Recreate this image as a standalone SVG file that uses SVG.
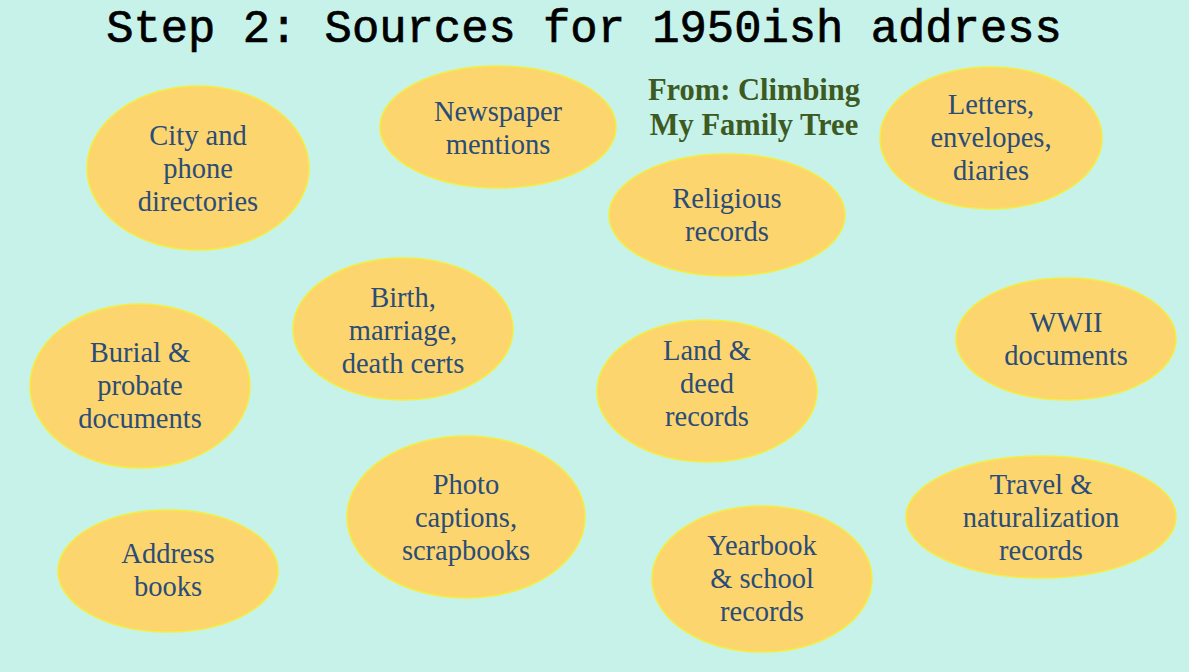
<svg xmlns="http://www.w3.org/2000/svg" width="1189" height="672" viewBox="0 0 1189 672">
<style>
.bg{fill:#C6F2EA}
.node ellipse{fill:#FDD56E;stroke:#F4EE3C;stroke-width:1.5}
.node text{font-family:"Liberation Serif","Times New Roman",serif;font-size:28.5px;fill:#2A4C78;text-anchor:middle}
.title{font-family:"Liberation Mono","Courier New",monospace;font-size:45.5px;fill:#000;stroke:#000;stroke-width:0.7;text-anchor:middle}
.src{font-family:"Liberation Serif","Times New Roman",serif;font-size:30.5px;font-weight:bold;fill:#3D5A22;text-anchor:middle}
</style>
<rect class="bg" x="0" y="0" width="1189" height="672"/>
<text class="title" x="584" y="42">Step 2: Sources for 1950ish address</text>
<g id="source"><text class="src" x="754" y="100">From: Climbing</text><text class="src" x="754" y="135">My Family Tree</text></g>
<g id="connectors"></g>
<g id="n-city" class="node"><ellipse cx="198" cy="168" rx="111" ry="82"/><text x="198" y="145">City and</text><text x="198" y="178">phone</text><text x="198" y="211">directories</text></g>
<g id="n-newspaper" class="node"><ellipse cx="498" cy="127" rx="118" ry="61"/><text x="498" y="121">Newspaper</text><text x="498" y="154">mentions</text></g>
<g id="n-religious" class="node"><ellipse cx="727" cy="215" rx="118" ry="61"/><text x="727" y="208">Religious</text><text x="727" y="241">records</text></g>
<g id="n-letters" class="node"><ellipse cx="991" cy="138" rx="111" ry="71"/><text x="991" y="114">Letters,</text><text x="991" y="147">envelopes,</text><text x="991" y="180">diaries</text></g>
<g id="n-birth" class="node"><ellipse cx="403" cy="329" rx="110" ry="71"/><text x="403" y="307">Birth,</text><text x="403" y="340">marriage,</text><text x="403" y="373">death certs</text></g>
<g id="n-burial" class="node"><ellipse cx="140" cy="386" rx="110" ry="82"/><text x="140" y="362">Burial &amp;</text><text x="140" y="395">probate</text><text x="140" y="428">documents</text></g>
<g id="n-land" class="node"><ellipse cx="707" cy="391" rx="110" ry="71"/><text x="707" y="360">Land &amp;</text><text x="707" y="393">deed</text><text x="707" y="426">records</text></g>
<g id="n-wwii" class="node"><ellipse cx="1066" cy="339" rx="110" ry="61"/><text x="1066" y="332">WWII</text><text x="1066" y="365">documents</text></g>
<g id="n-address" class="node"><ellipse cx="168" cy="571" rx="110" ry="61"/><text x="168" y="563">Address</text><text x="168" y="596">books</text></g>
<g id="n-photo" class="node"><ellipse cx="466" cy="517" rx="119" ry="81"/><text x="466" y="494">Photo</text><text x="466" y="527">captions,</text><text x="466" y="560">scrapbooks</text></g>
<g id="n-yearbook" class="node"><ellipse cx="762" cy="579" rx="110" ry="73"/><text x="762" y="555">Yearbook</text><text x="762" y="588">&amp; school</text><text x="762" y="621">records</text></g>
<g id="n-travel" class="node"><ellipse cx="1041" cy="517" rx="135" ry="61"/><text x="1041" y="494">Travel &amp;</text><text x="1041" y="527">naturalization</text><text x="1041" y="560">records</text></g>
</svg>
